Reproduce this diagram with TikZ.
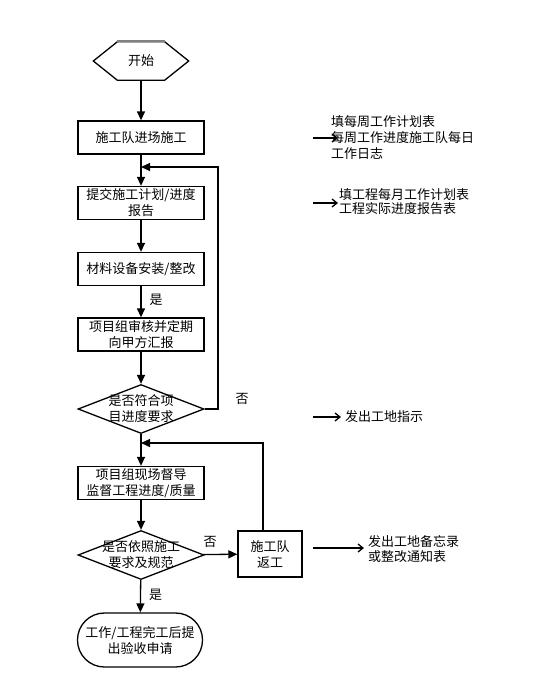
\documentclass[tikz,border=0pt]{standalone}
\usepackage{fontspec}
\setmainfont{Noto Sans CJK SC}
\usetikzlibrary{arrows.meta,shapes.geometric,calc}
\begin{document}
\begin{tikzpicture}[x=1pt,y=-1pt,
  font=\fontsize{13}{16}\selectfont,
  every node/.style={inner sep=0pt},
  ln/.style={line width=1.3pt},
  box/.style={draw, line width=1.3pt, minimum width=126pt, minimum height=33pt, align=center},
  dia/.style={draw, diamond, line width=1.3pt, minimum width=126pt, minimum height=49pt},
  flow/.style={line width=1.3pt, -{Triangle[length=9pt,width=8pt]}},
  note/.style={line width=1.3pt, -{Straight Barb[length=5pt,width=8pt]}},
  lbl/.style={align=left, anchor=west}]
\fill[white] (0,0) rectangle (555,696);
\useasboundingbox (0,0) rectangle (555,696);

% start hexagon
\node[minimum width=95pt, minimum height=38pt] (start) at (141,61) {开始};
\draw[ln] ($(start.north west)+(24,0)$) -- ($(start.north east)+(-24,0)$) -- (start.east)
  -- ($(start.south east)+(-24,0)$) -- ($(start.south west)+(24,0)$) -- (start.west) -- cycle;
\draw[gray, line width=2pt] ($(start.north west)+(24,-1)$) -- ($(start.north east)+(-24,-1)$);

\node[box] (b1) at (141,137.5) {施工队进场施工};
\node[box] (b2) at (141,203) {提交施工计划/进度\\报告};
\node[box] (b3) at (141,269) {材料设备安装/整改};
\node[box] (b4) at (141,334.5) {项目组审核并定期\\向甲方汇报};
\node[dia] (d1) at (141,409) {};
\node[align=center] (d1t) at (141,409) {是否符合项\\目进度要求};
\node[box] (b5) at (141,483) {项目组现场督导\\监督工程进度/质量};
\node[dia] (d2) at (141,555) {};
\node[align=center] (d2t) at (141,555) {是否依照施工\\要求及规范};
\node[box, minimum width=64pt, minimum height=46pt] (b6) at (270,554) {施工队\\返工};
\node[draw, line width=1.3pt, minimum width=125pt, minimum height=54pt, rounded corners=26.9pt, align=center] (end) at (140,640) {工作/工程完工后提\\出验收申请};

\coordinate (j1) at (141,167);
\coordinate (j2) at (141,443);

\draw[flow] (start) -- (b1);
\draw[flow] (b1) -- (b2);
\draw[flow] (b2) -- (b3);
\draw[flow] (b3) -- node[right=8pt, pos=0.45] (y1) {是} (b4);
\draw[flow] (b4) -- (d1);
\draw[flow] (d1) -- (b5);
\draw[flow] (b5) -- (d2);
\draw[flow] (d2) -- node[above=6pt, pos=0.2] (n2) {否} (b6);
\draw[flow] (d2) -- node[right=8pt, pos=0.45] (y2) {是} (end);
\draw[flow] (d1.east) -- (218,409) -- (218,167) -- (j1);
\draw[flow] ($(b6.north)+(-7,0)$) |- (j2);
\node (n1) at (242,399) {否};

% annotations
\coordinate (a1s) at (313,138); \coordinate (a1e) at (338,138);
\coordinate (a2s) at (313,203); \coordinate (a2e) at (338,203);
\coordinate (a3s) at (313,417); \coordinate (a3e) at (341,417);
\coordinate (a4s) at (313,548); \coordinate (a4e) at (364,548);
\draw[note] (a1s) -- (a1e);
\draw[note] (a2s) -- (a2e);
\draw[note] (a3s) -- (a3e);
\draw[note] (a4s) -- (a4e);
\node[lbl] (t1) at (331,137.5) {填每周工作计划表\\每周工作进度施工队每日\\工作日志};
\node[lbl, font=\fontsize{13}{14}\selectfont] (t2) at (339,201.5) {填工程每月工作计划表\\工程实际进度报告表};
\node[lbl] (t3) at (345,417) {发出工地指示};
\node[lbl, font=\fontsize{13}{15}\selectfont] (t4) at (368,549.5) {发出工地备忘录\\或整改通知表};
\end{tikzpicture}
\end{document}
